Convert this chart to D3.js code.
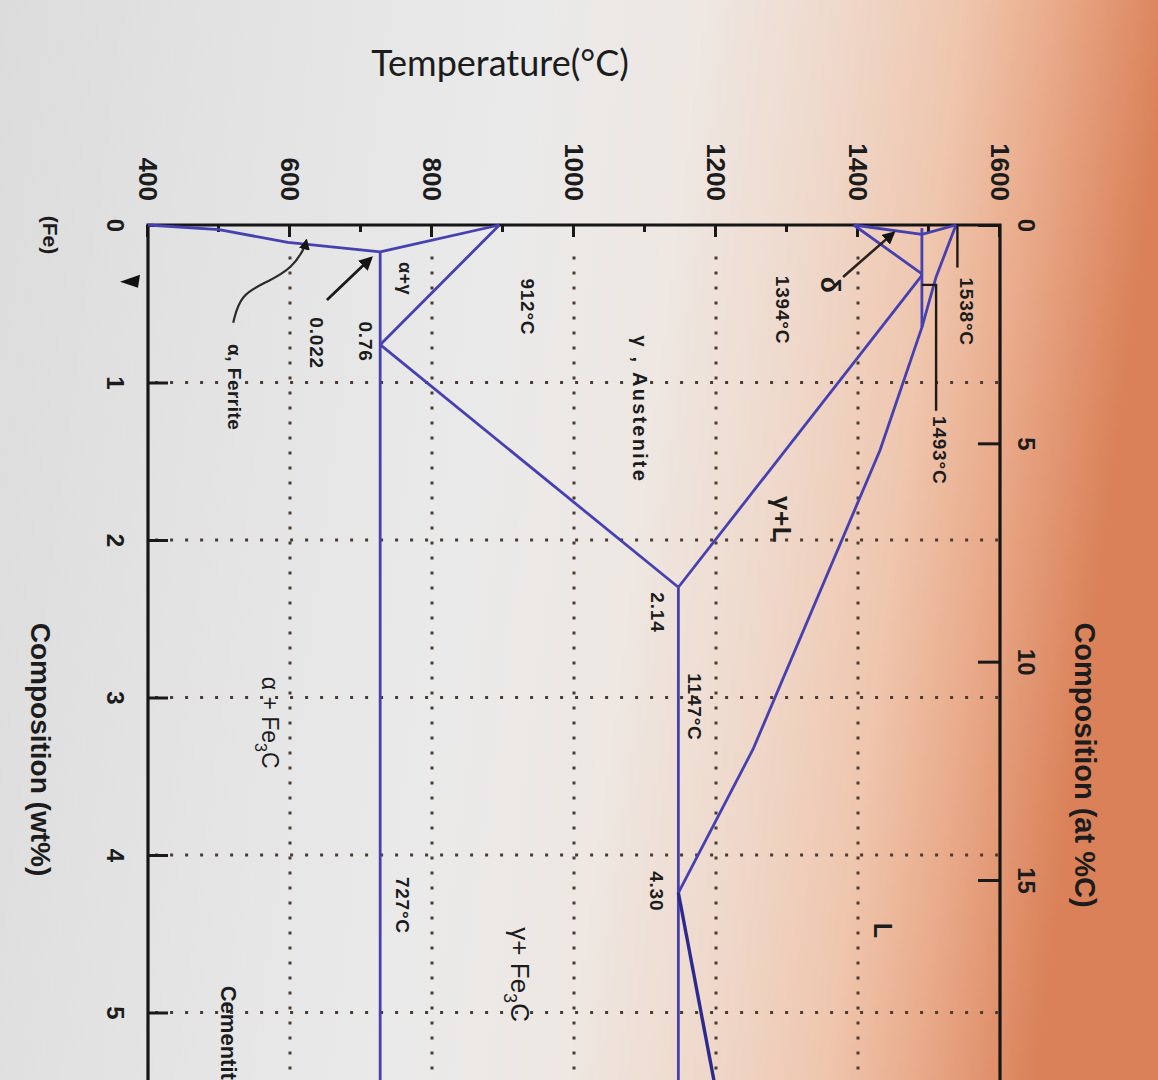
<!DOCTYPE html>
<html>
<head>
<meta charset="utf-8">
<script src="https://cdn.jsdelivr.net/npm/d3@7"></script>
<style>
  body { margin: 0; background: #e6e6e6; }
  svg { display: block; }
  text { font-family: "Liberation Sans", Arial, sans-serif; fill: #1c1c1c; }
</style>
</head>
<body>
<svg id="chart" width="1158" height="1080"></svg>
<script>
// axis ticks
const tempTicks = [400, 600, 800, 1000, 1200, 1400, 1600];
const tempMinorTicks = [500, 700, 900, 1100, 1300, 1500];
const wtTicks = [0, 1, 2, 3, 4, 5];
const atTicks = [0, 5, 10, 15];
const tempGrid = [600, 800, 1000, 1200, 1400];
const wtGrid = [1, 2, 3, 4, 5];

// phase boundaries as [wt% C, temperature °C]
const alphaSolvus = [[0, 400], [0.03, 500], [0.11, 597], [0.17, 727]];
const alphaBoundary = [[0.17, 727], [0, 895]];
const a3Line = [[0.76, 727], [0, 895]];
const acmLine = [[0.76, 727], [2.3, 1147]];
const eutectoidLine = [[0.17, 727], [6.7, 727]];
const eutecticLine = [[2.3, 1147], [6.7, 1147]];
const gammaSolidus = [[2.3, 1147], [0.32, 1490]];
const liquidus = [[4.24, 1147], [3.33, 1252], [1.43, 1431], [0.65, 1490], [0.33, 1510], [0, 1538]];
const cementiteLiquidus = [[4.24, 1147], [5.5, 1200]];
const peritecticLine = [[0.02, 1490], [0.65, 1490]];
const deltaSolidus = [[0.06, 1490], [0, 1538]];
const deltaBoundary = [[0, 1394], [0.06, 1490]];
const gammaDeltaBoundary = [[0, 1394], [0.31, 1490]];

// text labels [text, wt%, °C]
const valueLabels = [
  ['1394°C', 0.54, 1293], ['1538°C', 0.55, 1553], ['1493°C', 1.43, 1515],
  ['912°C', 0.52, 935], ['0.022', 0.75, 638], ['0.76', 0.74, 706],
  ['2.14', 2.46, 1117], ['1147°C', 3.06, 1170], ['4.30', 4.23, 1116], ['727°C', 4.32, 759]
];
const phaseLabels = [
  ['δ', 0.38, 1361], ['γ , Austenite', 1.17, 1093], ['α+γ', 0.34, 762],
  ['α, Ferrite', 1.03, 522], ['γ+L', 1.87, 1293], ['L', 4.48, 1435]
];
const carbideLabels = [['α + Fe', 3.16, 572], ['γ+ Fe', 4.76, 924]];

// leader lines / arrows, [wt%, °C]
const deltaArrow = [[0.33, 1379], [0.05, 1450]];
const alphaMaxArrow = [[0.476, 652], [0.21, 714]];
const ferriteArrow = [[0.62, 520], [0.44, 530], [0.36, 569], [0.27, 604], [0.14, 621], [0.1, 623]];
const leader1538 = [[0.005, 1540], [0.27, 1540]];
const leader1493 = [[0.38, 1490], [0.38, 1510], [1.18, 1510]];

const svg = d3.select('#chart');
const defs = svg.append('defs');

const bg = defs.append('linearGradient').attr('id', 'bg').attr('x1', '0').attr('x2', '1').attr('y1', '0').attr('y2', '0.12');
[['0%', '#dcdcdc'], ['45%', '#eaeaea'], ['60%', '#eee7e2'], ['72%', '#efd8ca'], ['82%', '#efc6ae'], ['90%', '#e9aa8a'], ['100%', '#da8159']]
  .forEach(s => bg.append('stop').attr('offset', s[0]).attr('stop-color', s[1]));

defs.append('marker').attr('id', 'arrow').attr('viewBox', '0 0 10 10')
  .attr('refX', 8).attr('refY', 5).attr('markerWidth', 5).attr('markerHeight', 5)
  .attr('orient', 'auto-start-reverse')
  .append('path').attr('d', 'M0,0 L10,5 L0,10 z').attr('fill', '#151515');

svg.append('rect').attr('width', 1158).attr('height', 1080).attr('fill', 'url(#bg)');

// plot is drawn upright (composition along x, temperature up) and turned 90° clockwise
const plotH = 852;
const x = d3.scaleLinear().domain([0, 6.7]).range([0, 6.7 * 157.5]);
const y = d3.scaleLinear().domain([400, 1600]).range([plotH, 0]);
const xAt = d3.scaleLinear().domain([0, 15]).range([0, 655]);

const g = svg.append('g').attr('transform', 'translate(1000,225) rotate(90)');

// dotted grid
g.selectAll('.wgrid').data(wtGrid).join('line')
  .attr('x1', d => x(d)).attr('x2', d => x(d))
  .attr('y1', y(410)).attr('y2', y(1600))
  .attr('stroke', '#4a3c33').attr('stroke-width', 3).attr('stroke-dasharray', '3 12');
g.selectAll('.tgrid').data(tempGrid).join('line')
  .attr('x1', x(0.2)).attr('x2', x(6.7))
  .attr('y1', d => y(d)).attr('y2', d => y(d))
  .attr('stroke', '#4a3c33').attr('stroke-width', 3).attr('stroke-dasharray', '3 12');

// axes
function styleAxis(sel, size) {
  sel.select('.domain').remove();
  sel.selectAll('line').attr('stroke', '#1a1a1a').attr('stroke-width', 3);
  sel.selectAll('text').attr('font-size', size).attr('font-weight', 'bold').attr('fill', '#161616');
}
g.append('g')
  .call(d3.axisLeft(y).tickValues(tempMinorTicks).tickSizeInner(-7).tickSizeOuter(0).tickFormat(''))
  .call(styleAxis, 24);
g.append('g')
  .call(d3.axisLeft(y).tickValues(tempTicks).tickSizeInner(-12).tickSizeOuter(0).tickPadding(24).tickFormat(d3.format('d')))
  .call(styleAxis, 26);
g.append('g').attr('transform', `translate(0,${plotH})`)
  .call(d3.axisBottom(x).tickValues(wtTicks).tickSizeInner(-20).tickSizeOuter(0).tickPadding(24).tickFormat(d3.format('d')))
  .call(styleAxis, 24);
g.append('g')
  .call(d3.axisTop(xAt).tickValues(atTicks).tickSizeInner(-22).tickSizeOuter(0).tickPadding(18).tickFormat(d3.format('d')))
  .call(styleAxis, 24);

// frame
g.append('path')
  .attr('d', `M${x(6.7)},0 L0,0 L0,${plotH} L${x(6.7)},${plotH}`)
  .attr('fill', 'none').attr('stroke', '#161616').attr('stroke-width', 3.2);

// phase boundaries
const line = d3.line().x(d => x(d[0])).y(d => y(d[1]));
const boundaries = [alphaSolvus, alphaBoundary, a3Line, acmLine, eutectoidLine, eutecticLine,
  gammaSolidus, liquidus, peritecticLine, deltaSolidus, deltaBoundary, gammaDeltaBoundary];
g.selectAll('.phase').data(boundaries).join('path')
  .attr('d', line).attr('fill', 'none')
  .attr('stroke', '#4640b0').attr('stroke-width', 2.8).attr('stroke-linejoin', 'round');
g.append('path').attr('d', line(cementiteLiquidus)).attr('fill', 'none')
  .attr('stroke', '#2c2a8e').attr('stroke-width', 3.4);

// leaders and arrows
g.append('path').attr('d', line(deltaArrow)).attr('fill', 'none')
  .attr('stroke', '#2a211c').attr('stroke-width', 2.6).attr('marker-end', 'url(#arrow)');
g.append('path').attr('d', line(alphaMaxArrow)).attr('fill', 'none')
  .attr('stroke', '#1a1a1a').attr('stroke-width', 2.8).attr('marker-end', 'url(#arrow)');
g.append('path').attr('d', d3.line().curve(d3.curveBasis).x(d => x(d[0])).y(d => y(d[1]))(ferriteArrow))
  .attr('fill', 'none').attr('stroke', '#2a2a2a').attr('stroke-width', 2.2).attr('marker-end', 'url(#arrow)');
[leader1538, leader1493].forEach(l => g.append('path').attr('d', line(l)).attr('fill', 'none')
  .attr('stroke', '#1e1a18').attr('stroke-width', 2.4));

// small pointer at the origin
g.append('path')
  .attr('d', `M${x(0.36)},${y(400) + 28} l-7,-20 l13,2 z`)
  .attr('fill', '#111');

// labels
g.selectAll('.val').data(valueLabels).join('text')
  .attr('x', d => x(d[1])).attr('y', d => y(d[2]))
  .attr('text-anchor', 'middle').attr('dominant-baseline', 'central')
  .attr('font-size', 19).attr('font-weight', 'bold').attr('letter-spacing', 0.8)
  .text(d => d[0]);

const phaseSize = { 'δ': 27, 'γ , Austenite': 20, 'α+γ': 18, 'α, Ferrite': 19, 'γ+L': 26, 'L': 25 };
g.selectAll('.phs').data(phaseLabels).join('text')
  .attr('x', d => x(d[1])).attr('y', d => y(d[2]))
  .attr('text-anchor', 'middle').attr('dominant-baseline', 'central')
  .attr('font-size', d => phaseSize[d[0]])
  .attr('font-weight', 'bold')
  .attr('letter-spacing', d => d[0] === 'γ , Austenite' ? 2.2 : 0.5)
  .text(d => d[0]);

const carb = g.selectAll('.carb').data(carbideLabels).join('text')
  .attr('x', d => x(d[1])).attr('y', d => y(d[2]))
  .attr('text-anchor', 'middle').attr('dominant-baseline', 'central')
  .attr('font-size', (d, i) => i === 0 ? 23 : 26);
carb.append('tspan').text(d => d[0]);
carb.append('tspan').attr('baseline-shift', 'sub').attr('font-size', '70%').text('3');
carb.append('tspan').text('C');

g.append('text').attr('x', x(4.83)).attr('y', y(513))
  .attr('dominant-baseline', 'central').attr('font-size', 22).attr('font-weight', 'bold')
  .text('Cementite');

// axis titles
g.append('text').attr('x', x(3.33)).attr('y', plotH + 108)
  .attr('text-anchor', 'middle').attr('dominant-baseline', 'central')
  .attr('font-size', 28).attr('font-weight', 'bold').text('Composition (wt%)');
g.append('text').attr('x', 10).attr('y', plotH + 98)
  .attr('text-anchor', 'middle').attr('dominant-baseline', 'central')
  .attr('font-size', 21).attr('font-weight', 'bold').text('(Fe)');
g.append('text').attr('x', 540).attr('y', -85)
  .attr('text-anchor', 'middle').attr('dominant-baseline', 'central')
  .attr('font-size', 29).attr('font-weight', 'bold').text('Composition (at %C)');

svg.append('text').attr('x', 500).attr('y', 62)
  .attr('text-anchor', 'middle').attr('dominant-baseline', 'central')
  .style('font-family', 'Lato, "Open Sans", sans-serif')
  .attr('font-size', 36).attr('fill', '#202020').text('Temperature(°C)');
</script>
</body>
</html>
